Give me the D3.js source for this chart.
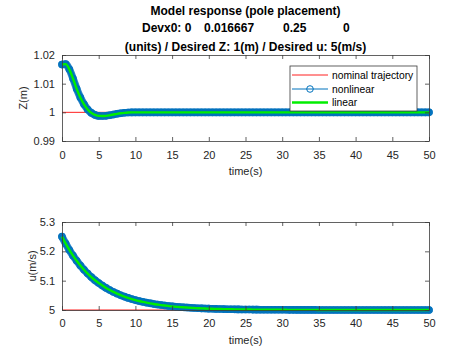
<!DOCTYPE html>
<html><head><meta charset="utf-8">
<script src="https://cdn.jsdelivr.net/npm/d3@7"></script>
<style>body{margin:0;background:#fff}svg{font-family:"Liberation Sans",Arial,sans-serif}</style>
</head><body><svg id="c" width="474" height="355"></svg>
<script>
// ---- data ----
const time = [0,0.5,1,1.5,2,2.5,3,3.5,4,4.5,5,5.5,6,6.5,7,7.5,8,8.5,9,9.5,
10,10.5,11,11.5,12,12.5,13,13.5,14,14.5,15,15.5,16,16.5,17,17.5,18,18.5,19,19.5,
20,20.5,21,21.5,22,22.5,23,23.5,24,24.5,25,25.5,26,26.5,27,27.5,28,28.5,29,29.5,
30,30.5,31,31.5,32,32.5,33,33.5,34,34.5,35,35.5,36,36.5,37,37.5,38,38.5,39,39.5,
40,40.5,41,41.5,42,42.5,43,43.5,44,44.5,45,45.5,46,46.5,47,47.5,48,48.5,49,49.5,50];
const zNonlinear = [1.01667,1.0168,1.0150,1.0118,1.0082,1.0052,1.0028,1.0010,0.9998,0.9991,
0.99875,0.99870,0.99878,0.99898,0.99923,0.99948,0.99968,0.99983,0.99993,0.99998,
1,1,1,1,1,1,1,1,1,1,1,1,1,1,1,1,1,1,1,1,
1,1,1,1,1,1,1,1,1,1,1,1,1,1,1,1,1,1,1,1,
1,1,1,1,1,1,1,1,1,1,1,1,1,1,1,1,1,1,1,1,
1,1,1,1,1,1,1,1,1,1,1,1,1,1,1,1,1,1,1,1,1];
const zLinear = zNonlinear;
const uNonlinear = [5.2500,5.2262,5.2047,5.1852,5.1676,5.1516,5.1372,5.1241,5.1123,5.1016,
5.0920,5.0832,5.0753,5.0681,5.0616,5.0558,5.0505,5.0457,5.0413,5.0374,
5.0338,5.0306,5.0277,5.0251,5.0227,5.0205,5.0186,5.0168,5.0152,5.0138,
5.0124,5.0113,5.0102,5.0092,5.0083,5.0075,5.0068,5.0062,5.0056,5.0051,
5.0046,5.0041,5.0037,5.0034,5.0031,5.0028,5.0025,5.0023,5.0021,5.0019,
5.0017,5.0015,5.0014,5.0012,5.0011,5.0010,5.0009,5.0008,5.0008,5.0007,
5.0006,5.0006,5.0005,5.0005,5.0004,5.0004,5.0003,5.0003,5.0003,5.0003,
5.0002,5.0002,5.0002,5.0002,5.0001,5.0001,5.0001,5.0001,5.0001,5.0001,
5.0001,5.0001,5.0001,5.0001,5.0001,5.0000,5.0000,5.0000,5.0000,5.0000,
5.0000,5.0000,5.0000,5.0000,5.0000,5.0000,5.0000,5.0000,5.0000,5.0000,5.0000];
const uLinear = uNonlinear;
const zNominal = 1;
const uNominal = 5;
const xTicks = [0,5,10,15,20,25,30,35,40,45,50];
const zTicks = [0.99,1,1.01,1.02];
const zTickLabels = ["0.99","1","1.01","1.02"];
const uTicks = [5,5.1,5.2,5.3];
const uTickLabels = ["5","5.1","5.2","5.3"];
const titleLine1 = "Model response (pole placement)";
const titleLine2 = ["Devx0: 0","0.016667","0.25","0"];
const titleLine3 = "(units) / Desired Z: 1(m) / Desired u: 5(m/s)";
const legendLabels = ["nominal trajectory","nonlinear","linear"];

// ---- drawing ----
const svg = d3.select('#c');
const axisCol = '#3a3a3a', textCol = '#262626';
const RED = '#ff2020', BLUE = '#0072BD', GREEN = '#00ee00';
const x = d3.scaleLinear().domain([0,50]).range([62,429]);

// titles
const tg = svg.append('g').attr('font-weight','bold').attr('font-size',12).attr('fill','#000');
tg.append('text').attr('x',245.5).attr('y',14.5).attr('text-anchor','middle').text(titleLine1);
const l2 = tg.append('text').attr('y',31.5);
const l2x = [142,204,283,343];
titleLine2.forEach((s,i)=> l2.append('tspan').attr('x',l2x[i]).text(s));
tg.append('text').attr('x',245.5).attr('y',50.5).attr('text-anchor','middle').text(titleLine3);

const panels = [
  {top:55,bottom:141,domain:[0.99,1.02],ticks:zTicks,labels:zTickLabels,nl:zNonlinear,lin:zLinear,nom:zNominal,ylabel:'Z(m)',ylx:23,xly:174.5,pad:10},
  {top:222,bottom:310,domain:[5,5.3],ticks:uTicks,labels:uTickLabels,nl:uNonlinear,lin:uLinear,nom:uNominal,ylabel:'u(m/s)',ylx:32,xly:344,pad:9.5}
];

panels.forEach((p,pi)=>{
  const y = d3.scaleLinear().domain(p.domain).range([p.bottom,p.top]);
  const g = svg.append('g');
  // nominal
  g.append('line').attr('x1',x(0)).attr('x2',x(50)).attr('y1',y(p.nom)).attr('y2',y(p.nom))
    .attr('stroke',RED).attr('stroke-width',1);
  // nonlinear: dense circle markers form a solid band
  const line = d3.line().x((d,i)=>x(time[i])).y(d=>y(d)).curve(d3.curveMonotoneX);
  g.append('path').datum(p.nl).attr('d',line).attr('fill','none').attr('stroke','#2f86c8')
    .attr('stroke-width',7.6).attr('stroke-linecap','round').attr('stroke-linejoin','round');
  g.append('path').datum(p.nl).attr('d',line).attr('fill','none').attr('stroke',BLUE)
    .attr('stroke-width',5.6).attr('stroke-linecap','round').attr('stroke-linejoin','round');
  g.selectAll('circle.m').data(p.nl).join('circle').attr('class','m')
    .attr('cx',(d,i)=>x(time[i])).attr('cy',d=>y(d)).attr('r',3.2)
    .attr('fill','none').attr('stroke',BLUE).attr('stroke-width',1.2);
  // linear
  g.append('path').datum(p.lin).attr('d',line).attr('fill','none').attr('stroke',GREEN).attr('stroke-width',2.4);

  // axes
  const ax = svg.append('g').attr('font-size',11);
  const styleAxis = sel => {
    sel.selectAll('path,line').attr('stroke',axisCol).attr('stroke-width',0.8);
    sel.selectAll('text').attr('fill',textCol).attr('font-family','"Liberation Sans",Arial,sans-serif').attr('font-size',11);
  };
  ax.append('g').attr('transform',`translate(0,${p.bottom})`)
    .call(d3.axisBottom(x).tickValues(xTicks).tickSizeInner(-4).tickSizeOuter(0).tickPadding(p.pad).tickFormat(d3.format('d')))
    .call(styleAxis);
  ax.append('g').attr('transform',`translate(0,${p.top})`)
    .call(d3.axisTop(x).tickValues(xTicks).tickSizeInner(-4).tickSizeOuter(0).tickFormat(''))
    .call(styleAxis);
  ax.append('g').attr('transform',`translate(${x(0)},0)`)
    .call(d3.axisLeft(y).tickValues(p.ticks).tickSizeInner(-4).tickSizeOuter(0).tickPadding(7).tickFormat((d,i)=>p.labels[i]))
    .call(styleAxis);
  ax.append('g').attr('transform',`translate(${x(50)},0)`)
    .call(d3.axisRight(y).tickValues(p.ticks).tickSizeInner(-4).tickSizeOuter(0).tickFormat(''))
    .call(styleAxis);
  // labels
  svg.append('text').attr('transform',`translate(${p.ylx},${(p.top+p.bottom)/2}) rotate(-90)`)
    .attr('text-anchor','middle').attr('dy','0.35em').attr('font-size',11).attr('fill',textCol).text(p.ylabel);
  svg.append('text').attr('x',245.5).attr('y',p.xly).attr('text-anchor','middle')
    .attr('font-size',11).attr('fill',textCol).text('time(s)');

  if(pi===0){
    const lg = svg.append('g');
    lg.append('rect').attr('x',290).attr('y',66).attr('width',127).attr('height',45)
      .attr('fill','#fff').attr('stroke',axisCol).attr('stroke-width',0.8);
    const ys=[75,89,102.5];
    lg.append('line').attr('x1',292).attr('x2',328).attr('y1',ys[0]).attr('y2',ys[0]).attr('stroke',RED).attr('stroke-width',1);
    lg.append('line').attr('x1',292).attr('x2',328).attr('y1',ys[1]).attr('y2',ys[1]).attr('stroke',BLUE).attr('stroke-width',1);
    lg.append('circle').attr('cx',310).attr('cy',ys[1]).attr('r',3.3).attr('fill','none').attr('stroke',BLUE).attr('stroke-width',1);
    lg.append('line').attr('x1',292).attr('x2',328).attr('y1',ys[2]).attr('y2',ys[2]).attr('stroke',GREEN).attr('stroke-width',2.5);
    legendLabels.forEach((s,i)=> lg.append('text').attr('x',332).attr('y',ys[i]).attr('dy','0.35em')
      .attr('font-size',10.3).attr('fill','#000').text(s));
  }
});
</script></body></html>
